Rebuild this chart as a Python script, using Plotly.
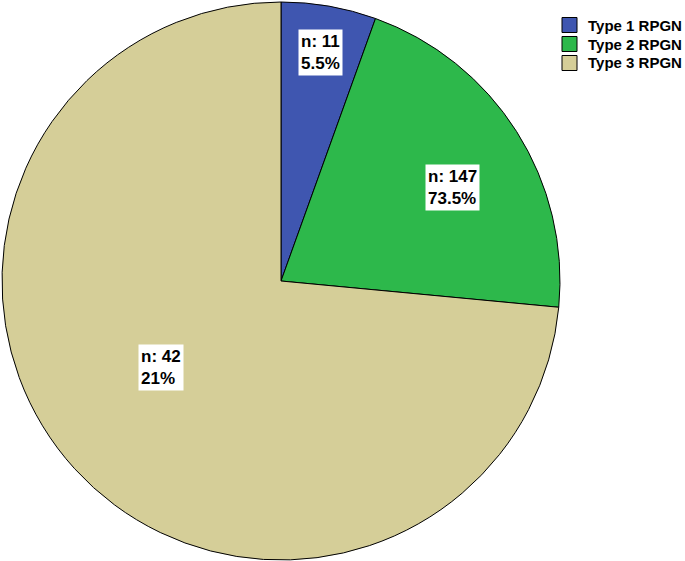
import math
import plotly.graph_objects as go

categories = ["Type 1 RPGN", "Type 2 RPGN", "Type 3 RPGN"]
counts = [11, 42, 147]
label_n = ["n: 11", "n: 147", "n: 42"]
label_pct = ["5.5%", "73.5%", "21%"]
colors = ["#3F56B0", "#2DB84B", "#D5CE98"]

W, H = 685, 561
ml, mr, mt, mb = 2, 0, 2, 1
pw, ph = W - ml - mr, H - mt - mb
diam = min(ph, pw)
dom_x = [0, diam / pw]
FONT = "Liberation Sans, Arial, sans-serif"


def px2paper(px, py):
    return (px - ml) / pw, 1 - (py - mt) / ph


fig = go.Figure(go.Pie(
    labels=categories, values=counts, sort=False, direction="clockwise", rotation=0,
    marker=dict(colors=colors, line=dict(color="black", width=1)),
    textinfo="none", hoverinfo="label+value", domain=dict(x=dom_x, y=[0, 1]),
    showlegend=False,
))

# slice labels placed near slice bisectors
radial_frac = [0.833, 0.70, 0.53]
angle_offset_deg = [0.0, 3.7, 6.5]
total = sum(counts)
cx_px, cy_px, r_px = ml + diam / 2, mt + diam / 2, diam / 2
cum = 0
annotations = []
for i, v in enumerate(counts):
    mid = (cum + v / 2) / total * 2 * math.pi + math.radians(angle_offset_deg[i])
    cum += v
    lx = cx_px + r_px * radial_frac[i] * math.sin(mid)
    ly = cy_px - r_px * radial_frac[i] * math.cos(mid)
    x, y = px2paper(lx, ly)
    annotations.append(dict(
        x=x, y=y, xref="paper", yref="paper", showarrow=False,
        xanchor="center", yanchor="middle",
        text=f"<b>{label_n[i]}<br>{label_pct[i]}</b>", align="left",
        font=dict(family=FONT, size=17, color="black"),
        bgcolor="white", borderpad=2,
    ))

# legend (drawn manually to match compact row spacing)
leg_x, leg_y0, leg_dy, sw = 562, 25, 19, 15
shapes = []
for i, cat in enumerate(categories):
    yc = leg_y0 + i * leg_dy
    x0, y0 = px2paper(leg_x, yc - sw / 2)
    x1, y1 = px2paper(leg_x + sw, yc + sw / 2)
    shapes.append(dict(type="rect", xref="paper", yref="paper", x0=x0, x1=x1, y0=y0, y1=y1,
                       fillcolor=colors[i], line=dict(color="black", width=1)))
    tx, ty = px2paper(leg_x + 24, yc)
    annotations.append(dict(x=tx, y=ty, xref="paper", yref="paper", showarrow=False,
                            xanchor="left", yanchor="middle", text=f"<b>{cat}</b>",
                            font=dict(family=FONT, size=15, color="black")))

fig.update_layout(
    width=W, height=H, margin=dict(l=ml, r=mr, t=mt, b=mb),
    paper_bgcolor="white", plot_bgcolor="white",
    annotations=annotations, shapes=shapes, showlegend=False,
)
fig.write_html("out.html", config={"displayModeBar": False},
               post_script="document.body.style.margin='0';")
